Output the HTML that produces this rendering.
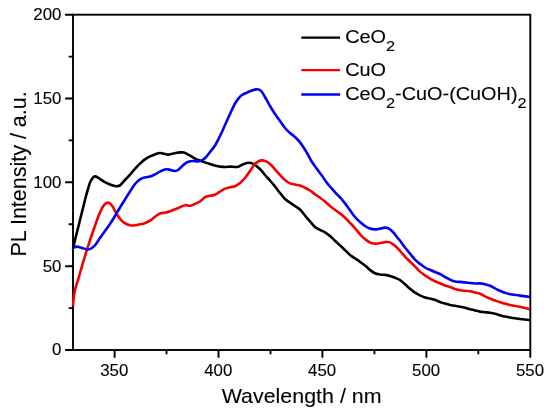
<!DOCTYPE html>
<html><head><meta charset="utf-8"><title>PL spectra</title>
<style>html,body{margin:0;padding:0;background:#fff}svg{display:block}text{font-family:"Liberation Sans",sans-serif;fill:#000;stroke:#000;stroke-width:.1px}</style></head>
<body>
<svg width="550" height="416" viewBox="0 0 550 416">
<rect width="550" height="416" fill="#fff"/>
<rect x="73.0" y="14.7" width="457.3" height="335.3" fill="none" stroke="#000" stroke-width="1.9"/>
<path d="M114.6 350.0v7.7M218.5 350.0v7.7M322.4 350.0v7.7M426.4 350.0v7.7M530.3 350.0v7.7M166.5 350.0v4.3M270.5 350.0v4.3M374.4 350.0v4.3M478.3 350.0v4.3M73.0 350.0h-7.9M73.0 266.2h-7.9M73.0 182.3h-7.9M73.0 98.5h-7.9M73.0 14.7h-7.9M73.0 308.1h-4.3M73.0 224.3h-4.3M73.0 140.4h-4.3M73.0 56.6h-4.3" fill="none" stroke="#000" stroke-width="1.9"/>
<path d="M73.0 249.0C73.5 246.8 74.8 240.8 76.0 236.0C77.2 231.2 78.7 225.3 80.0 220.0C81.3 214.7 83.0 208.0 84.0 204.0C85.0 200.0 85.3 198.5 86.0 196.0C86.7 193.5 87.3 191.2 88.0 189.0C88.7 186.8 89.2 184.4 90.0 182.5C90.8 180.6 92.2 178.6 93.0 177.6C93.8 176.6 94.2 176.4 95.0 176.4C95.8 176.4 96.5 176.7 98.0 177.6C99.5 178.5 102.0 180.4 104.0 181.6C106.0 182.8 108.2 183.8 110.0 184.5C111.8 185.2 113.8 185.7 115.0 186.0C116.2 186.3 116.2 186.3 117.0 186.2C117.8 186.1 118.7 186.4 120.0 185.4C121.3 184.4 123.3 181.8 125.0 180.0C126.7 178.2 128.3 176.5 130.0 174.6C131.7 172.7 133.3 170.6 135.0 168.8C136.7 167.0 138.3 165.2 140.0 163.6C141.7 162.0 143.3 160.6 145.0 159.4C146.7 158.2 148.3 157.2 150.0 156.4C151.7 155.6 153.3 155.0 155.0 154.4C156.7 153.8 158.3 153.1 160.0 153.0C161.7 152.9 163.7 153.7 165.0 154.0C166.3 154.3 166.8 154.6 168.0 154.6C169.2 154.6 170.5 154.1 172.0 153.8C173.5 153.5 175.7 153.0 177.0 152.8C178.3 152.6 178.8 152.4 180.0 152.4C181.2 152.4 182.3 152.1 184.0 152.6C185.7 153.1 188.2 154.6 190.0 155.6C191.8 156.6 193.3 157.8 195.0 158.6C196.7 159.4 198.3 160.0 200.0 160.6C201.7 161.2 203.3 161.8 205.0 162.4C206.7 163.0 208.3 163.5 210.0 164.0C211.7 164.5 213.3 165.2 215.0 165.6C216.7 166.0 218.3 166.4 220.0 166.6C221.7 166.8 223.3 167.0 225.0 167.0C226.7 167.0 228.3 166.6 230.0 166.6C231.7 166.6 233.5 167.0 235.0 167.0C236.5 167.0 237.7 166.8 239.0 166.4C240.3 166.0 241.7 165.0 243.0 164.4C244.3 163.8 245.7 163.2 247.0 163.0C248.3 162.8 249.7 162.7 251.0 163.0C252.3 163.3 253.5 164.0 255.0 165.0C256.5 166.0 258.3 167.3 260.0 169.0C261.7 170.7 263.3 173.1 265.0 175.0C266.7 176.9 268.3 178.6 270.0 180.5C271.7 182.4 273.3 184.4 275.0 186.5C276.7 188.6 278.3 190.9 280.0 193.0C281.7 195.1 283.3 197.4 285.0 199.0C286.7 200.6 288.3 201.4 290.0 202.6C291.7 203.8 293.3 204.8 295.0 206.0C296.7 207.2 298.3 207.9 300.0 209.5C301.7 211.1 303.3 213.5 305.0 215.5C306.7 217.5 308.3 219.5 310.0 221.4C311.7 223.3 313.3 225.6 315.0 227.0C316.7 228.4 318.3 229.0 320.0 229.9C321.7 230.8 323.3 231.4 325.0 232.4C326.7 233.4 328.3 234.7 330.0 236.1C331.7 237.5 333.3 239.2 335.0 240.8C336.7 242.4 338.3 243.9 340.0 245.4C341.7 246.9 343.3 248.5 345.0 250.1C346.7 251.7 348.3 253.5 350.0 254.9C351.7 256.3 353.3 257.3 355.0 258.4C356.7 259.5 358.3 260.6 360.0 261.8C361.7 262.9 363.3 264.0 365.0 265.4C366.7 266.8 368.3 268.6 370.0 269.9C371.7 271.2 373.3 272.5 375.0 273.3C376.7 274.1 378.3 274.2 380.0 274.5C381.7 274.8 383.3 274.7 385.0 274.9C386.7 275.2 388.3 275.5 390.0 276.0C391.7 276.5 393.3 277.1 395.0 277.8C396.7 278.5 398.3 278.9 400.0 280.0C401.7 281.1 403.3 282.7 405.0 284.2C406.7 285.7 408.3 287.4 410.0 288.8C411.7 290.2 413.3 291.6 415.0 292.7C416.7 293.8 418.3 294.6 420.0 295.4C421.7 296.2 423.3 296.9 425.0 297.4C426.7 297.9 428.3 298.2 430.0 298.6C431.7 299.0 433.3 299.2 435.0 299.8C436.7 300.4 438.3 301.5 440.0 302.1C441.7 302.7 443.3 303.0 445.0 303.5C446.7 304.0 448.3 304.6 450.0 305.0C451.7 305.4 453.3 305.5 455.0 305.8C456.7 306.1 458.3 306.4 460.0 306.7C461.7 307.0 463.3 307.4 465.0 307.8C466.7 308.2 468.3 308.9 470.0 309.3C471.7 309.7 473.3 310.0 475.0 310.4C476.7 310.8 478.3 311.3 480.0 311.6C481.7 311.9 483.3 312.0 485.0 312.2C486.7 312.4 488.3 312.5 490.0 312.8C491.7 313.1 493.3 313.4 495.0 313.8C496.7 314.2 498.3 314.9 500.0 315.3C501.7 315.8 503.3 316.1 505.0 316.5C506.7 316.9 507.5 317.1 510.0 317.5C512.5 317.9 516.7 318.6 520.0 319.0C523.3 319.4 528.3 319.8 530.0 320.0" fill="none" stroke="#000" stroke-width="2.6" stroke-linejoin="round" stroke-linecap="butt"/>
<path d="M73.0 306.0C73.1 304.7 73.4 300.7 73.7 298.0C74.0 295.3 74.5 292.2 75.0 290.0C75.5 287.8 76.0 286.2 76.5 284.5C77.0 282.8 77.6 281.4 78.2 279.5C78.8 277.6 79.3 275.5 80.0 273.0C80.7 270.5 81.7 267.2 82.5 264.4C83.3 261.6 84.2 258.7 85.0 256.0C85.8 253.3 86.7 250.5 87.4 248.1C88.2 245.7 88.8 244.0 89.5 241.8C90.2 239.6 91.1 237.0 91.8 235.0C92.5 233.0 92.8 232.1 93.5 230.0C94.2 227.9 95.4 224.6 96.2 222.3C97.0 220.0 97.8 217.8 98.5 216.0C99.2 214.2 99.9 212.8 100.5 211.4C101.1 210.0 101.7 208.8 102.2 207.8C102.8 206.8 103.2 206.1 103.8 205.4C104.4 204.7 105.1 203.9 105.7 203.4C106.3 202.9 107.0 202.6 107.6 202.6C108.2 202.6 108.9 202.8 109.5 203.2C110.1 203.6 110.7 204.0 111.4 204.8C112.1 205.6 112.8 206.7 113.5 208.0C114.2 209.3 115.0 211.1 115.8 212.4C116.5 213.7 117.3 214.9 118.0 216.0C118.7 217.1 119.5 218.1 120.2 219.0C120.9 219.9 121.6 220.6 122.3 221.2C123.0 221.8 123.7 222.3 124.5 222.8C125.3 223.3 126.1 223.8 127.0 224.2C127.9 224.6 129.0 225.0 130.0 225.2C131.0 225.4 131.7 225.6 133.0 225.5C134.3 225.4 136.2 225.1 138.0 224.7C139.8 224.3 142.0 224.1 144.0 223.4C146.0 222.7 148.2 221.8 150.0 220.7C151.8 219.6 153.3 218.0 155.0 216.8C156.7 215.6 158.3 214.2 160.0 213.5C161.7 212.8 163.3 213.0 165.0 212.7C166.7 212.3 168.3 211.8 170.0 211.2C171.7 210.6 173.3 210.0 175.0 209.3C176.7 208.7 178.3 208.0 180.0 207.3C181.7 206.6 183.3 205.4 185.0 205.2C186.7 204.9 188.3 206.0 190.0 205.8C191.7 205.6 193.3 204.6 195.0 203.9C196.7 203.2 198.3 202.6 200.0 201.5C201.7 200.4 203.3 198.2 205.0 197.2C206.7 196.2 208.3 196.1 210.0 195.7C211.7 195.3 213.3 195.5 215.0 194.8C216.7 194.1 218.3 192.6 220.0 191.6C221.7 190.6 223.3 189.3 225.0 188.6C226.7 187.9 228.3 187.6 230.0 187.2C231.7 186.8 233.3 186.9 235.0 186.2C236.7 185.5 238.3 184.4 240.0 183.0C241.7 181.6 243.3 180.0 245.0 178.0C246.7 176.0 248.5 173.2 250.0 171.0C251.5 168.8 252.7 166.6 254.0 165.0C255.3 163.4 256.7 162.4 258.0 161.6C259.3 160.8 260.7 160.4 262.0 160.4C263.3 160.4 264.7 160.8 266.0 161.4C267.3 162.0 268.5 162.7 270.0 164.0C271.5 165.3 273.3 167.5 275.0 169.3C276.7 171.1 278.3 173.1 280.0 174.9C281.7 176.7 283.3 178.6 285.0 180.0C286.7 181.4 288.3 182.6 290.0 183.4C291.7 184.2 293.3 184.2 295.0 184.6C296.7 185.0 298.3 185.1 300.0 185.6C301.7 186.1 303.3 186.9 305.0 187.7C306.7 188.5 308.3 189.4 310.0 190.5C311.7 191.6 313.3 193.0 315.0 194.2C316.7 195.4 318.3 196.5 320.0 197.7C321.7 198.9 323.3 200.2 325.0 201.6C326.7 203.0 328.3 204.6 330.0 206.0C331.7 207.4 333.3 208.5 335.0 209.8C336.7 211.0 338.3 212.1 340.0 213.4C341.7 214.7 343.3 216.2 345.0 217.8C346.7 219.4 348.2 220.9 350.0 222.8C351.8 224.7 354.2 227.2 356.0 229.3C357.8 231.4 359.3 233.5 361.0 235.3C362.7 237.1 364.3 238.6 366.0 239.9C367.7 241.2 369.3 242.3 371.0 242.9C372.7 243.5 374.3 243.6 376.0 243.6C377.7 243.6 379.3 243.3 381.0 243.0C382.7 242.7 384.5 242.1 386.0 242.0C387.5 241.9 388.7 241.9 390.0 242.4C391.3 242.9 392.7 244.0 394.0 245.0C395.3 246.0 396.7 247.3 398.0 248.6C399.3 250.0 400.7 251.7 402.0 253.2C403.3 254.7 404.7 256.3 406.0 257.7C407.3 259.1 408.5 260.2 410.0 261.7C411.5 263.2 413.3 264.8 415.0 266.4C416.7 268.0 418.3 270.1 420.0 271.6C421.7 273.1 423.3 274.2 425.0 275.4C426.7 276.6 428.3 277.6 430.0 278.6C431.7 279.6 433.3 280.5 435.0 281.3C436.7 282.1 438.3 282.5 440.0 283.2C441.7 283.9 443.3 284.9 445.0 285.5C446.7 286.1 448.3 286.5 450.0 287.1C451.7 287.7 453.3 288.4 455.0 288.9C456.7 289.4 458.3 289.8 460.0 290.1C461.7 290.4 463.3 290.7 465.0 290.9C466.7 291.1 468.3 291.0 470.0 291.3C471.7 291.6 473.3 292.1 475.0 292.5C476.7 292.9 478.3 293.1 480.0 293.7C481.7 294.3 483.3 295.6 485.0 296.4C486.7 297.2 488.3 297.8 490.0 298.5C491.7 299.2 493.3 299.9 495.0 300.5C496.7 301.1 498.3 301.7 500.0 302.2C501.7 302.7 503.3 303.1 505.0 303.6C506.7 304.1 507.5 304.5 510.0 305.0C512.5 305.5 516.7 306.1 520.0 306.8C523.3 307.5 528.3 309.0 530.0 309.4" fill="none" stroke="#f40000" stroke-width="2.6" stroke-linejoin="round" stroke-linecap="butt"/>
<path d="M73.0 248.0C73.7 247.8 75.5 246.6 77.0 246.6C78.5 246.6 80.2 247.5 82.0 248.0C83.8 248.5 86.3 249.4 88.0 249.4C89.7 249.4 90.7 248.9 92.0 248.0C93.3 247.1 94.7 245.7 96.0 244.0C97.3 242.3 98.5 240.2 100.0 238.0C101.5 235.8 103.3 233.3 105.0 231.0C106.7 228.7 108.3 226.5 110.0 224.0C111.7 221.5 113.3 218.8 115.0 216.0C116.7 213.2 118.3 210.2 120.0 207.5C121.7 204.8 123.3 202.2 125.0 199.5C126.7 196.8 128.3 194.1 130.0 191.5C131.7 188.9 133.3 186.0 135.0 184.0C136.7 182.0 138.3 180.5 140.0 179.4C141.7 178.3 143.3 177.9 145.0 177.4C146.7 176.9 148.3 177.1 150.0 176.6C151.7 176.1 153.3 175.2 155.0 174.4C156.7 173.6 158.3 172.4 160.0 171.6C161.7 170.8 163.7 170.0 165.0 169.6C166.3 169.2 166.8 169.2 168.0 169.4C169.2 169.6 170.8 170.3 172.0 170.6C173.2 170.9 174.0 171.1 175.0 171.0C176.0 170.9 177.0 170.6 178.0 170.0C179.0 169.4 179.8 168.3 181.0 167.2C182.2 166.1 183.7 164.5 185.0 163.6C186.3 162.7 187.7 162.0 189.0 161.6C190.3 161.2 191.5 161.0 193.0 161.0C194.5 161.0 196.5 161.5 198.0 161.4C199.5 161.3 200.7 161.1 202.0 160.4C203.3 159.7 204.7 158.4 206.0 157.0C207.3 155.6 208.5 153.9 210.0 152.0C211.5 150.1 213.3 148.2 215.0 145.5C216.7 142.8 218.3 139.4 220.0 136.0C221.7 132.6 223.3 128.7 225.0 125.0C226.7 121.3 228.3 117.6 230.0 114.0C231.7 110.4 233.5 106.2 235.0 103.5C236.5 100.8 237.8 99.2 239.0 97.8C240.2 96.4 240.7 95.9 242.0 95.0C243.3 94.1 245.3 93.3 247.0 92.6C248.7 91.9 250.5 91.1 252.0 90.6C253.5 90.1 254.8 89.6 256.0 89.4C257.2 89.2 258.0 89.2 259.0 89.6C260.0 90.0 261.0 90.8 262.0 92.0C263.0 93.2 263.7 94.7 265.0 97.0C266.3 99.3 268.3 103.2 270.0 106.0C271.7 108.8 273.3 111.5 275.0 114.0C276.7 116.5 278.3 118.7 280.0 121.0C281.7 123.3 283.3 126.0 285.0 128.0C286.7 130.0 288.3 131.5 290.0 133.0C291.7 134.5 293.7 135.8 295.0 137.0C296.3 138.2 296.8 138.7 298.0 140.0C299.2 141.3 300.5 142.8 302.0 145.0C303.5 147.2 305.3 150.2 307.0 153.0C308.7 155.8 310.3 159.3 312.0 162.0C313.7 164.7 315.3 166.7 317.0 169.0C318.7 171.3 320.3 173.5 322.0 175.8C323.7 178.1 325.3 180.8 327.0 183.0C328.7 185.2 330.3 186.9 332.0 188.8C333.7 190.7 335.5 192.8 337.0 194.4C338.5 196.0 339.7 196.9 341.0 198.4C342.3 199.9 343.5 201.4 345.0 203.4C346.5 205.4 348.3 207.9 350.0 210.2C351.7 212.5 353.3 215.0 355.0 217.0C356.7 219.0 358.3 220.5 360.0 222.0C361.7 223.5 363.3 224.9 365.0 226.0C366.7 227.1 368.3 228.0 370.0 228.6C371.7 229.2 373.3 229.4 375.0 229.4C376.7 229.4 378.3 228.9 380.0 228.6C381.7 228.3 383.5 227.6 385.0 227.6C386.5 227.6 387.7 227.9 389.0 228.6C390.3 229.3 391.7 230.6 393.0 232.0C394.3 233.4 395.7 235.3 397.0 237.0C398.3 238.7 399.7 240.2 401.0 242.0C402.3 243.8 403.5 245.6 405.0 247.5C406.5 249.4 408.3 251.6 410.0 253.6C411.7 255.6 413.3 257.9 415.0 259.6C416.7 261.3 418.3 262.6 420.0 263.9C421.7 265.2 423.3 266.5 425.0 267.5C426.7 268.5 428.3 269.1 430.0 269.8C431.7 270.6 433.3 271.3 435.0 272.0C436.7 272.7 438.3 273.2 440.0 274.0C441.7 274.8 443.3 276.1 445.0 277.0C446.7 277.9 448.3 278.8 450.0 279.6C451.7 280.4 453.3 281.2 455.0 281.6C456.7 282.0 458.3 281.8 460.0 281.9C461.7 282.0 463.3 282.2 465.0 282.4C466.7 282.6 468.3 282.8 470.0 283.0C471.7 283.2 473.3 283.4 475.0 283.5C476.7 283.6 478.3 283.3 480.0 283.4C481.7 283.5 483.3 283.8 485.0 284.2C486.7 284.6 488.3 285.1 490.0 285.8C491.7 286.5 493.3 287.6 495.0 288.4C496.7 289.2 498.3 290.1 500.0 290.8C501.7 291.5 503.3 292.2 505.0 292.8C506.7 293.4 507.5 293.7 510.0 294.2C512.5 294.7 516.7 295.1 520.0 295.6C523.3 296.1 528.3 296.8 530.0 297.0" fill="none" stroke="#0000f2" stroke-width="2.6" stroke-linejoin="round" stroke-linecap="butt"/>
<text transform="translate(114.3 375.5) scale(1.04 1)" font-size="16.2" text-anchor="middle">350</text>
<text transform="translate(218.2 375.5) scale(1.04 1)" font-size="16.2" text-anchor="middle">400</text>
<text transform="translate(322.1 375.5) scale(1.04 1)" font-size="16.2" text-anchor="middle">450</text>
<text transform="translate(426.1 375.5) scale(1.04 1)" font-size="16.2" text-anchor="middle">500</text>
<text transform="translate(530.0 375.5) scale(1.04 1)" font-size="16.2" text-anchor="middle">550</text>
<text transform="translate(61.4 355.2) scale(1.04 1)" font-size="16.2" text-anchor="end">0</text>
<text transform="translate(61.4 271.6) scale(1.04 1)" font-size="16.2" text-anchor="end">50</text>
<text transform="translate(61.4 187.8) scale(1.04 1)" font-size="16.2" text-anchor="end">100</text>
<text transform="translate(61.4 104.0) scale(1.04 1)" font-size="16.2" text-anchor="end">150</text>
<text transform="translate(61.4 20.2) scale(1.04 1)" font-size="16.2" text-anchor="end">200</text>
<text transform="translate(301.6 402.9) scale(1.045 1)" font-size="20.5" text-anchor="middle">Wavelength / nm</text>
<text transform="translate(26.3 173.9) rotate(-90) scale(1 1.05)" font-size="21.5" text-anchor="middle">PL Intensity / a.u.</text>
<path d="M301.3 37.7H340.1" stroke="#000" stroke-width="2.3" fill="none"/>
<path d="M301.3 70.1H340.1" stroke="#f40000" stroke-width="2.3" fill="none"/>
<path d="M301.3 94.5H340.1" stroke="#0000f2" stroke-width="2.3" fill="none"/>
<text transform="translate(345.2 43.3) scale(1.056 1)" font-size="18.8">CeO<tspan font-size="15.5" dy="8.1">2</tspan></text>
<text transform="translate(345.2 76.3) scale(1.056 1)" font-size="18.8">CuO</text>
<text transform="translate(345.2 100.1) scale(1.056 1)" font-size="18.8">CeO<tspan font-size="15.5" dy="8.1">2</tspan><tspan dy="-8.1">-CuO-(CuOH)</tspan><tspan font-size="15.5" dy="8.1">2</tspan></text>
</svg>
</body></html>
